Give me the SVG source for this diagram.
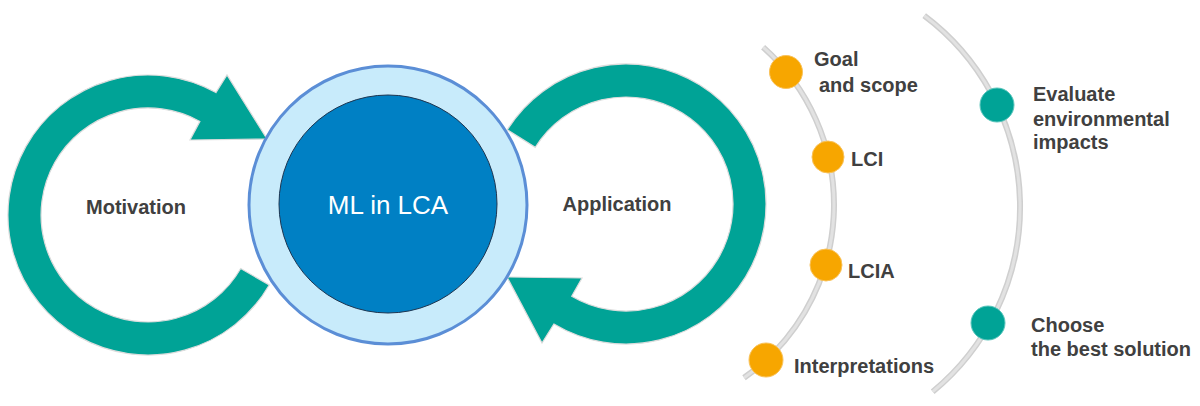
<svg xmlns="http://www.w3.org/2000/svg" width="1200" height="406" viewBox="0 0 1200 406">
<style>
.ring{fill:#00a396;stroke:#dcdcdc;stroke-width:1.2}
.lbl{font-family:"Liberation Sans",Arial,sans-serif;font-weight:bold;font-size:20px;fill:#404040}
.arcO{fill:none;stroke:#cfcfcf;stroke-width:6;stroke-linecap:butt}
.arcI{fill:none;stroke:#e2e2e2;stroke-width:3}
.org{fill:#f7a600;stroke:#f9c25a;stroke-width:1}
.teal{fill:#00a396;stroke:#5cc6bd;stroke-width:1}
</style>
<rect width="1200" height="406" fill="#ffffff"/>
<g id="connectors">
<path id="motivation-arrow" class="ring" d="M269.2,285 A140,140 0 1 1 215.9,92.6 L227,75 L267,139 L190,140 L199.9,121.4 A107,107 0 1 0 240.7,268.5 Z"/>
<path id="application-arrow" class="ring" d="M507.3,129.8 A140,140 0 1 1 553.9,324 L542,343 L507,277 L582,278 L571.7,296.2 A107,107 0 1 0 535.3,147.3 Z"/>
</g>
<g id="motivation"><text class="lbl" x="136" y="214" text-anchor="middle">Motivation</text></g>
<g id="application"><text class="lbl" x="617" y="211" text-anchor="middle">Application</text></g>
<g id="ml-in-lca">
<circle cx="388" cy="205" r="139" fill="#c8ebfb" stroke="#5b8ed6" stroke-width="3"/>
<circle cx="388" cy="204" r="109" fill="#0080c4" stroke="#1e3550" stroke-width="1"/>
<text x="388" y="214" text-anchor="middle" font-family="'Liberation Sans',Arial,sans-serif" font-size="26" fill="#ffffff">ML in LCA</text>
</g>
<g id="lca-arc">
<path class="arcO" d="M763.1,47.2 A211,211 0 0 1 744,377.8"/>
<path class="arcI" d="M763.1,47.2 A211,211 0 0 1 744,377.8"/>
</g>
<g id="decision-arc">
<path class="arcO" d="M924.2,15.6 A239,239 0 0 1 932.7,391.7"/>
<path class="arcI" d="M924.2,15.6 A239,239 0 0 1 932.7,391.7"/>
</g>
<g id="goal">
<circle class="org" cx="786" cy="72" r="16.5"/>
<text class="lbl" x="814" y="66">Goal</text>
<text class="lbl" x="819" y="92">and scope</text>
</g>
<g id="lci">
<circle class="org" cx="828" cy="157" r="16"/>
<text class="lbl" x="851" y="166">LCI</text>
</g>
<g id="lcia">
<circle class="org" cx="826" cy="265" r="16"/>
<text class="lbl" x="848" y="278">LCIA</text>
</g>
<g id="interpretations">
<circle class="org" cx="766" cy="360" r="17"/>
<text class="lbl" x="794" y="373">Interpretations</text>
</g>
<g id="evaluate">
<circle class="teal" cx="997" cy="105" r="17"/>
<text class="lbl" x="1033" y="101">Evaluate</text>
<text class="lbl" x="1033" y="126">environmental</text>
<text class="lbl" x="1033" y="149">impacts</text>
</g>
<g id="choose">
<circle class="teal" cx="988" cy="323" r="17"/>
<text class="lbl" x="1031" y="332">Choose</text>
<text class="lbl" x="1031" y="356">the best solution</text>
</g>
</svg>
